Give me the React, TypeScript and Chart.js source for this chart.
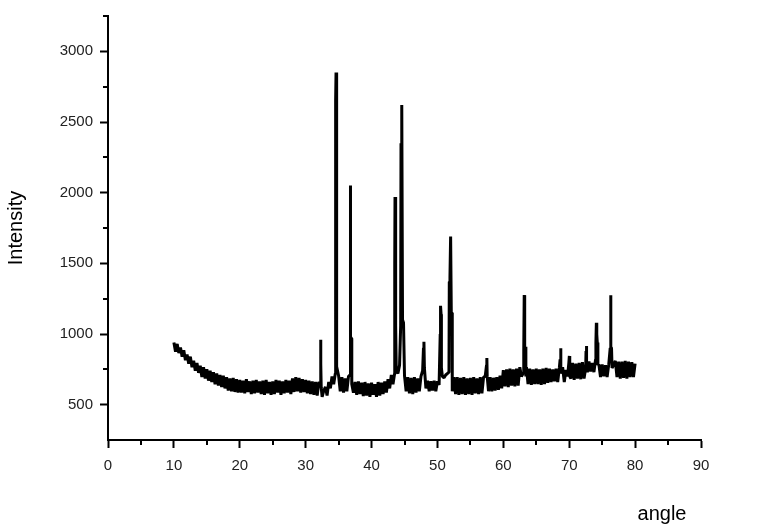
import React, { useEffect, useRef } from "react";
import { Chart, registerables } from "chart.js";

Chart.register(...registerables);

// Baseline scan: 10° to 80° in 0.25° steps
const angleStart = 10;
const angleStep = 0.25;
const baseline = [
  940, 875, 930, 865, // 10
  905, 840, 885, 815, // 11
  855, 790, 840, 765, // 12
  810, 740, 795, 725, // 13
  775, 695, 765, 685, // 14
  750, 670, 740, 660, // 15
  730, 645, 720, 635, // 16
  710, 625, 705, 615, // 17
  695, 600, 685, 595, // 18
  690, 590, 680, 585, // 19
  675, 585, 670, 580, // 20
  680, 590, 665, 575, // 21
  670, 580, 675, 585, // 22
  665, 575, 670, 570, // 23
  675, 580, 660, 570, // 24
  665, 575, 675, 585, // 25
  670, 570, 665, 580, // 26
  675, 585, 670, 575, // 27
  685, 590, 695, 595, // 28
  690, 585, 680, 590, // 29
  675, 580, 670, 575, // 30
  665, 570, 660, 565, // 31
  660, 640, 555, 600, // 32
  625, 565, 660, 615, // 33
  700, 645, 720, 770, // 34
  705, 595, 695, 585, // 35
  685, 595, 700, 710, // 36
  645, 585, 660, 570, // 37
  665, 575, 655, 560, // 38
  660, 565, 650, 555, // 39
  655, 570, 645, 555, // 40
  660, 565, 655, 575, // 41
  665, 585, 680, 615, // 42
  710, 645, 720, 740, // 43
  720, 780, 800, 800, // 44
  705, 595, 695, 580, // 45
  690, 575, 695, 585, // 46
  685, 595, 700, 740, // 47
  720, 615, 670, 595, // 48
  665, 600, 670, 595, // 49
  665, 640, 700, 700, // 50
  690, 710, 720, 730, // 51
  705, 595, 695, 575, // 52
  695, 570, 690, 575, // 53
  695, 570, 685, 575, // 54
  690, 570, 695, 580, // 55
  685, 575, 695, 580, // 56
  695, 700, 720, 595, // 57
  695, 595, 690, 600, // 58
  695, 605, 705, 615, // 59
  745, 630, 750, 625, // 60
  755, 635, 750, 630, // 61
  755, 635, 765, 700, // 62
  720, 720, 765, 645, // 63
  755, 640, 750, 645, // 64
  755, 645, 750, 640, // 65
  755, 645, 760, 655, // 66
  755, 660, 750, 665, // 67
  755, 660, 760, 720, // 68
  765, 660, 745, 700, // 69
  720, 685, 795, 675, // 70
  790, 685, 795, 680, // 71
  800, 685, 760, 730, // 72
  805, 735, 795, 730, // 73
  820, 740, 785, 695, // 74
  785, 700, 780, 695, // 75
  785, 715, 760, 780, // 76
  810, 695, 805, 685, // 77
  805, 690, 810, 685, // 78
  805, 695, 800, 695, // 79
  790, // 80
];

// Diffraction peaks: angles and intensities of each peak's points
const peakAngles = [
  [32.27, 32.31, 32.36],
  [34.53, 34.57, 34.61, 34.65, 34.7],
  [36.76, 36.8, 36.85, 36.95],
  [43.52, 43.56, 43.61, 43.7],
  [44.42, 44.47, 44.55, 44.62, 44.7, 44.85],
  [47.88, 47.95, 48.02],
  [50.42, 50.47, 50.55, 50.6],
  [51.8, 51.9, 52.0, 52.1, 52.22],
  [57.45, 57.5, 57.55],
  [63.1, 63.17, 63.24, 63.3, 63.42],
  [68.62, 68.68, 68.74],
  [69.95, 70.02, 70.08],
  [72.55, 72.6, 72.66],
  [74.05, 74.12, 74.18, 74.26, 74.35],
  [76.22, 76.28, 76.34, 76.42],
];
const peakCounts = [
  [960, 790, 620],
  [1000, 2650, 2850, 1000, 780],
  [1630, 2050, 980, 970],
  [1500, 1970, 1080, 1060],
  [1060, 2350, 2200, 2620, 1100, 1080],
  [900, 945, 760],
  [1000, 1200, 1140, 760],
  [1370, 1400, 1690, 1150, 1150],
  [780, 830, 700],
  [880, 1275, 910, 910, 700],
  [820, 900, 720],
  [800, 845, 700],
  [880, 915, 780],
  [940, 1080, 1000, 940, 780],
  [900, 1275, 910, 900],
];

const xTicks = [0, 10, 20, 30, 40, 50, 60, 70, 80, 90];
const xMinorTicks = [5, 15, 25, 35, 45, 55, 65, 75, 85];
const yTicks = [500, 1000, 1500, 2000, 2500, 3000];
const yMinorTicks = [750, 1250, 1750, 2250, 2750, 3250];

const yTitle = "Intensity";
const xTitle = "angle";

function buildPoints() {
  const clusters = peakAngles.map((a, i) => ({
    lo: Math.min(...a),
    hi: Math.max(...a),
    pts: a.map((x, j) => ({ x, y: peakCounts[i][j] })),
  }));
  const base = baseline
    .map((v, i) => ({ x: angleStart + i * angleStep, y: v }))
    .filter((p) => !clusters.some((c) => p.x >= c.lo - 1e-9 && p.x <= c.hi + 1e-9));
  const all = base.concat(...clusters.map((c) => c.pts));
  all.sort((a, b) => a.x - b.x);
  return all;
}

const minorTickPlugin = {
  id: "minorTicks",
  afterDraw(chart: any) {
    const { ctx, chartArea, scales } = chart;
    ctx.save();
    ctx.strokeStyle = "#000";
    ctx.lineWidth = 2;
    ctx.beginPath();
    for (const v of xMinorTicks) {
      const px = Math.round(scales.x.getPixelForValue(v));
      ctx.moveTo(px, chartArea.bottom);
      ctx.lineTo(px, chartArea.bottom + 5);
    }
    for (const v of yMinorTicks) {
      const py = Math.round(scales.y.getPixelForValue(v));
      ctx.moveTo(chartArea.left - 5, py);
      ctx.lineTo(chartArea.left, py);
    }
    ctx.stroke();
    // x-axis title
    ctx.fillStyle = "#000";
    ctx.font = "20px 'Liberation Sans', Arial, sans-serif";
    ctx.textAlign = "center";
    ctx.textBaseline = "middle";
    ctx.fillText(xTitle, 662, 514);
    ctx.restore();
  },
};

const tickFont = { family: "'Liberation Sans', Arial, sans-serif", size: 15 };

export default function App() {
  const ref = useRef<HTMLCanvasElement | null>(null);
  useEffect(() => {
    if (!ref.current) return;
    const chart = new Chart(ref.current, {
      type: "line",
      data: {
        datasets: [
          {
            data: buildPoints(),
            borderColor: "#000",
            borderWidth: 3,
            borderJoinStyle: "bevel",
            pointRadius: 0,
            tension: 0,
            fill: false,
          },
        ],
      },
      options: {
        responsive: false,
        animation: false,
        layout: { padding: { top: 9, right: 57, left: 0, bottom: 0 } },
        plugins: { legend: { display: false }, tooltip: { enabled: false } },
        scales: {
          x: {
            type: "linear",
            min: 0,
            max: 90,
            afterBuildTicks: (s: any) => {
              s.ticks = xTicks.map((v) => ({ value: v }));
            },
            afterFit: (s: any) => {
              s.height = 88;
            },
            border: { display: true, color: "#000", width: 2 },
            grid: {
              display: true,
              drawOnChartArea: false,
              drawTicks: true,
              tickLength: 8,
              tickWidth: 2,
              tickColor: "#000",
            },
            ticks: {
              color: "#222",
              padding: 9,
              maxRotation: 0,
              font: tickFont,
              callback: (v: any) => String(v),
            },
          },
          y: {
            type: "linear",
            min: 250,
            max: 3250,
            afterBuildTicks: (s: any) => {
              s.ticks = yTicks.map((v) => ({ value: v }));
            },
            afterFit: (s: any) => {
              s.width = 108;
            },
            border: { display: true, color: "#000", width: 2 },
            grid: {
              display: true,
              drawOnChartArea: false,
              drawTicks: true,
              tickLength: 8,
              tickWidth: 2,
              tickColor: "#000",
            },
            ticks: {
              color: "#222",
              padding: 7,
              font: tickFont,
              callback: (v: any) => String(v),
            },
            title: {
              display: true,
              text: yTitle,
              color: "#000",
              padding: { top: 4, bottom: 0 },
              font: { family: "'Liberation Sans', Arial, sans-serif", size: 20 },
            },
          },
        },
      },
      plugins: [minorTickPlugin],
    });
    return () => chart.destroy();
  }, []);
  return (
    <div style={{ position: "absolute", left: 0, top: 0, width: 758, height: 528, background: "#fff" }}>
      <canvas ref={ref} width={758} height={528} />
    </div>
  );
}
